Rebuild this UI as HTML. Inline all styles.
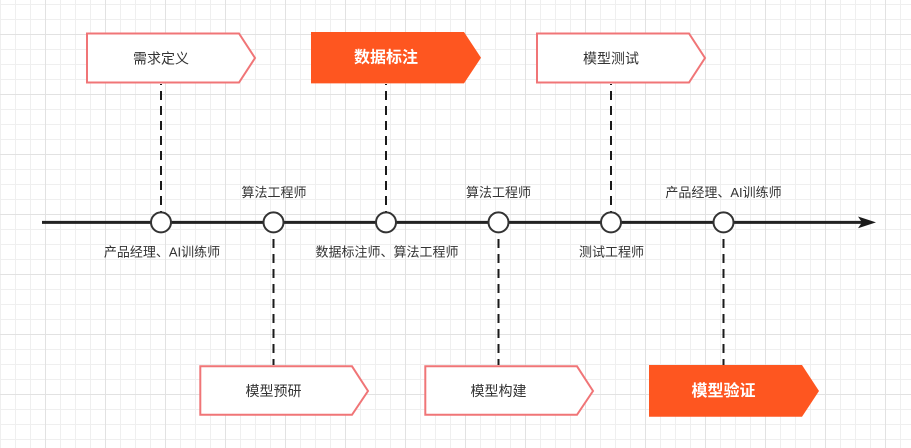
<!DOCTYPE html>
<html>
<head>
<meta charset="utf-8">
<style>
  html,body{margin:0;padding:0;background:#fff;}
  svg{display:block;}
  text{font-family:"Liberation Sans","Noto Sans CJK SC",sans-serif;}
</style>
</head>
<body>
<svg width="911" height="448" viewBox="0 0 911 448" xmlns="http://www.w3.org/2000/svg">
  <defs>
    <pattern id="minor" x="0" y="4" width="15" height="15" patternUnits="userSpaceOnUse">
      <path d="M0.5 0 V15 M0 0.5 H15" stroke="#efefef" stroke-width="1" fill="none"/>
    </pattern>
    <pattern id="major" x="45" y="34" width="60" height="60" patternUnits="userSpaceOnUse">
      <path d="M0.5 0 V60 M0 0.5 H60" stroke="#e2e2e2" stroke-width="1" fill="none"/>
    </pattern>
  </defs>
  <rect width="911" height="448" fill="#fff"/>
  <rect width="911" height="448" fill="url(#minor)"/>
  <rect width="911" height="448" fill="url(#major)"/>

  <!-- dashed connectors -->
  <g stroke="#1a1a1a" stroke-width="2" stroke-dasharray="9 6" stroke-dashoffset="8" fill="none">
    <line x1="161" y1="84" x2="161" y2="212"/>
    <line x1="386" y1="84" x2="386" y2="212"/>
    <line x1="611" y1="84" x2="611" y2="212"/>
    <line x1="273.5" y1="232" x2="273.5" y2="365"/>
    <line x1="498.5" y1="232" x2="498.5" y2="365"/>
    <line x1="723.5" y1="232" x2="723.5" y2="365"/>
  </g>

  <!-- timeline -->
  <line x1="42" y1="222.4" x2="864" y2="222.4" stroke="#222" stroke-width="3"/>
  <path d="M858,216.5 L876,222.4 L858,228.3 L862,222.4 Z" fill="#1a1a1a"/>

  <g fill="#fff" stroke="#333" stroke-width="2">
    <circle cx="161" cy="222.4" r="10"/>
    <circle cx="273.5" cy="222.4" r="10"/>
    <circle cx="386" cy="222.4" r="10"/>
    <circle cx="498.5" cy="222.4" r="10"/>
    <circle cx="611" cy="222.4" r="10"/>
    <circle cx="723.5" cy="222.4" r="10"/>
  </g>

  <!-- top boxes -->
  <path d="M87,33.5 H239 L255,58 L239,82.5 H87 Z" fill="#fff" stroke="#f07577" stroke-width="2"/>
  <path d="M311,32 H464 L481,57.7 L464,83.4 H311 Z" fill="#fe5620"/>
  <path d="M537,33.5 H689 L705,58 L689,82.5 H537 Z" fill="#fff" stroke="#f07577" stroke-width="2"/>

  <!-- bottom boxes -->
  <path d="M200.3,366.3 H352 L368,391 L352,414.8 H200.3 Z" fill="#fff" stroke="#f07577" stroke-width="2"/>
  <path d="M425.3,366.3 H577 L593,391 L577,414.8 H425.3 Z" fill="#fff" stroke="#f07577" stroke-width="2"/>
  <path d="M649,365 H802 L819,391 L802,416.7 H649 Z" fill="#fe5620"/>

  <!-- box texts -->
  <g font-size="14" fill="#333" text-anchor="middle" dominant-baseline="central">
    <text x="161" y="58.3">需求定义</text>
    <text x="611" y="58.3">模型测试</text>
    <text x="273.5" y="391.2">模型预研</text>
    <text x="498.5" y="391.2">模型构建</text>
  </g>
  <g font-size="16" font-weight="bold" fill="#fff" text-anchor="middle" dominant-baseline="central">
    <text x="386" y="58">数据标注</text>
    <text x="723.5" y="391.5">模型验证</text>
  </g>

  <!-- role labels -->
  <g font-size="13" fill="#333" text-anchor="middle" dominant-baseline="central">
    <text x="274" y="192.5">算法工程师</text>
    <text x="498.5" y="192.5">算法工程师</text>
    <text x="723.5" y="192.5">产品经理、AI训练师</text>
    <text x="162" y="252">产品经理、AI训练师</text>
    <text x="387" y="252">数据标注师、算法工程师</text>
    <text x="611.5" y="252">测试工程师</text>
  </g>
</svg>
</body>
</html>
